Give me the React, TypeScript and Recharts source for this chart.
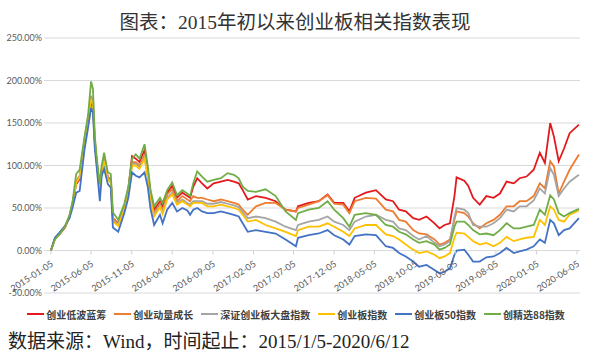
import React from 'react';
import { LineChart, Line, XAxis, YAxis, CartesianGrid, Legend } from 'recharts';

// --- Data (percent since 2015-01-05) ---

const dates = [
  '2015-01-05', '2015-01-20', '2015-02-06', '2015-02-27', '2015-03-16', '2015-03-27', '2015-04-10', '2015-04-23',
  '2015-05-11', '2015-05-25', '2015-06-05', '2015-06-12', '2015-06-19', '2015-06-26', '2015-07-08', '2015-07-15',
  '2015-07-24', '2015-08-07', '2015-08-18', '2015-08-26', '2015-09-15', '2015-10-08', '2015-10-23', '2015-11-06',
  '2015-11-20', '2015-12-04', '2015-12-23', '2016-01-04', '2016-01-14', '2016-01-28', '2016-02-19', '2016-02-29',
  '2016-03-17', '2016-04-05', '2016-04-23', '2016-05-13', '2016-06-01', '2016-06-11', '2016-06-23', '2016-07-08',
  '2016-07-26', '2016-08-15', '2016-09-08', '2016-10-05', '2016-10-30', '2016-11-23', '2016-12-11', '2016-12-26',
  '2017-01-14', '2017-02-14', '2017-03-22', '2017-04-29', '2017-06-05', '2017-07-14', '2017-07-22', '2017-08-31',
  '2017-10-08', '2017-11-10', '2017-12-05', '2018-01-08', '2018-01-31', '2018-02-20', '2018-04-03', '2018-05-11',
  '2018-06-17', '2018-07-14', '2018-08-06', '2018-08-31', '2018-09-28', '2018-10-20', '2018-11-17', '2018-12-17',
  '2019-01-05', '2019-01-24', '2019-02-13', '2019-03-02', '2019-03-10', '2019-04-08', '2019-04-23', '2019-05-11',
  '2019-06-05', '2019-06-30', '2019-07-27', '2019-08-20', '2019-09-14', '2019-10-11', '2019-11-02', '2019-11-28',
  '2019-12-25', '2020-01-17', '2020-02-05', '2020-02-25', '2020-03-10', '2020-03-28', '2020-04-17', '2020-05-08',
  '2020-06-12',
];

// 创业低波蓝筹
const lowVolBlueChip = [
  0, 14, 19, 27, 40, 54, 78, 84, 128, 150, 175, 168, 128, 105, 70, 95,
  108, 86, 84, 38, 32, 52, 72, 111, 108, 104, 118, 95, 68, 48, 58, 52,
  68, 76, 62, 68, 64, 62, 75, 85, 79, 73, 79, 81, 83, 81, 79, 71,
  60, 64, 62, 58, 48, 46, 52, 56, 58, 66, 56, 56, 46, 62, 68, 71,
  60, 58, 48, 46, 38, 36, 40, 32, 26, 30, 32, 64, 86, 82, 76, 62,
  54, 64, 62, 67, 81, 79, 85, 87, 95, 115, 103, 150, 134, 105, 120, 138,
  148,
];
// 创业动量成长
const momentumGrowth = [
  0, 14, 20, 28, 41, 55, 82, 88, 130, 155, 182, 175, 130, 106, 72, 96,
  108, 86, 84, 38, 31, 50, 70, 104, 104, 100, 112, 90, 64, 44, 55, 47,
  66, 72, 58, 64, 60, 58, 64, 62, 62, 60, 58, 60, 58, 56, 54, 48,
  42, 52, 56, 56, 48, 46, 50, 54, 58, 65, 55, 54, 44, 58, 62, 61,
  48, 46, 36, 34, 24, 20, 19, 13, 7, 9, 13, 36, 46, 44, 40, 32,
  26, 32, 36, 42, 52, 52, 58, 58, 64, 79, 73, 105, 99, 67, 81, 95,
  113,
];
// 深证创业板大盘指数
const bigCapIndex = [
  0, 14, 20, 28, 40, 54, 80, 86, 129, 153, 180, 174, 128, 104, 70, 94,
  106, 84, 82, 36, 30, 49, 68, 102, 102, 98, 110, 88, 62, 42, 53, 45,
  62, 68, 56, 60, 56, 54, 58, 58, 58, 55, 55, 57, 55, 53, 51, 45,
  38, 40, 38, 34, 28, 24, 30, 34, 36, 40, 34, 30, 24, 34, 40, 42,
  36, 34, 26, 24, 17, 13, 17, 9, 5, 7, 11, 40, 50, 48, 44, 30,
  28, 28, 32, 38, 48, 46, 52, 52, 59, 73, 67, 97, 89, 64, 73, 81,
  89,
];
// 创业板指数
const chinextIndex = [
  0, 14, 20, 28, 40, 54, 80, 86, 128, 152, 178, 172, 127, 103, 68, 93,
  105, 83, 80, 34, 29, 48, 67, 100, 100, 96, 108, 86, 60, 40, 51, 43,
  60, 66, 54, 58, 54, 52, 56, 56, 56, 52, 52, 54, 52, 50, 48, 42,
  34, 36, 30, 26, 22, 17, 24, 28, 28, 32, 28, 22, 17, 26, 30, 30,
  19, 17, 13, 7, 1, -3, -1, -5, -9, -7, -3, 15, 21, 20, 16, 11,
  7, 9, 5, 9, 16, 11, 13, 15, 16, 36, 30, 52, 48, 36, 34, 42,
  47,
];
// 创业板50指数
const chinext50 = [
  0, 15, 21, 29, 38, 50, 68, 70, 118, 145, 168, 162, 120, 98, 58, 88,
  96, 78, 74, 27, 22, 44, 62, 92, 88, 86, 92, 75, 50, 30, 42, 32,
  48, 56, 46, 50, 47, 42, 48, 50, 46, 44, 44, 46, 44, 42, 40, 32,
  22, 24, 22, 20, 13, 5, 15, 18, 20, 24, 18, 13, 7, 17, 19, 18,
  5, 3, -3, -7, -13, -19, -17, -23, -27, -25, -21, -5, 0, 1, -5, -13,
  -13, -8, -7, -3, 3, -3, -1, 1, 5, 13, 9, 36, 32, 18, 24, 26,
  38,
];
// 创精选88指数
const select88 = [
  0, 13, 19, 28, 42, 57, 90, 95, 133, 160, 199, 190, 135, 110, 78, 100,
  115, 92, 90, 45, 36, 55, 75, 108, 113, 108, 125, 100, 72, 52, 62, 56,
  71, 80, 65, 71, 67, 64, 79, 93, 87, 81, 83, 85, 91, 89, 85, 75,
  70, 69, 72, 64, 46, 36, 44, 48, 50, 58, 48, 38, 28, 42, 44, 42,
  30, 28, 22, 19, 13, 9, 11, 7, 1, 3, 7, 28, 34, 34, 30, 24,
  19, 20, 18, 24, 32, 26, 26, 28, 30, 48, 42, 65, 60, 44, 40, 44,
  49,
];

const tickDates = [
  '2015-01-05', '2015-06-05', '2015-11-05', '2016-04-05', '2016-09-05', '2017-02-05', '2017-07-05',
  '2017-12-05', '2018-05-05', '2018-10-05', '2019-03-05', '2019-08-05', '2020-01-05', '2020-06-05',
];
const yTicks = [-50, 0, 50, 100, 150, 200, 250];

const series = [
  { key: 'lvbc', name: '创业低波蓝筹', color: '#E3191C', values: lowVolBlueChip },
  { key: 'momo', name: '创业动量成长', color: '#ED7D31', values: momentumGrowth },
  { key: 'big', name: '深证创业板大盘指数', color: '#A5A5A5', values: bigCapIndex },
  { key: 'cyb', name: '创业板指数', color: '#FFC000', values: chinextIndex },
  { key: 'c50', name: '创业板50指数', color: '#4472C4', values: chinext50 },
  { key: 's88', name: '创精选88指数', color: '#70AD47', values: select88 },
];

const data = dates.map((d, i) => {
  const row: any = { t: Date.parse(d) };
  series.forEach((s) => { row[s.key] = s.values[i]; });
  return row;
});

// --- Layout ---

const W = 600;
const H = 362;
const MARGIN = { top: 38, right: 20, bottom: 40, left: 4 };
const LEGEND_H = 16;
const XAXIS_H = 13;
const PLOT_BOTTOM = H - MARGIN.bottom - LEGEND_H - XAXIS_H;
const ZERO_Y = PLOT_BOTTOM - (PLOT_BOTTOM - MARGIN.top) * (50 / 300);

const CJK = '"Liberation Serif", "Noto Sans CJK SC", serif';
const AXIS_FONT = 'Lato, "Liberation Sans", sans-serif';

const fmtDate = (v: number) => new Date(v).toISOString().slice(0, 10);
const seriesIndex = (dataKey: string) => series.findIndex((s) => s.key === dataKey);

// x labels sit on the 0% line like in Excel, not at the bottom of the plot
const DateTick = ({ x, payload }: any) => {
  const ax = x + 3;
  const ay = ZERO_Y + 15;
  return (
    <g>
      <line x1={x} x2={x} y1={ZERO_Y} y2={ZERO_Y + 4} stroke="#d0d0d0" />
      <text
        x={ax}
        y={ay}
        textAnchor="end"
        transform={`rotate(-33 ${ax} ${ay})`}
        fontSize={9}
        fontFamily={AXIS_FONT}
        fill="#595959"
      >
        {fmtDate(payload.value)}
      </text>
    </g>
  );
};

const LegendContent = ({ payload }: any) => {
  const items = [...(payload || [])].sort((a: any, b: any) => seriesIndex(a.dataKey) - seriesIndex(b.dataKey));
  return (
    <div
      style={{
        display: 'flex',
        justifyContent: 'center',
        alignItems: 'center',
        height: LEGEND_H,
        fontFamily: '"Noto Sans CJK SC", sans-serif',
        fontSize: 10,
        fontWeight: 700,
        color: '#404040',
        whiteSpace: 'nowrap',
      }}
    >
      {items.map((p: any) => (
        <span key={p.value} style={{ display: 'flex', alignItems: 'center', marginRight: 8 }}>
          <svg width={17} height={4}>
            <line x1={0} x2={17} y1={2} y2={2} stroke={p.color} strokeWidth={2} />
          </svg>
          <span style={{ marginLeft: 2 }}>{p.value}</span>
        </span>
      ))}
    </div>
  );
};

export default function App() {
  return (
    <div style={{ position: 'absolute', left: 0, top: 0, width: W, height: H, background: '#fff' }}>
      <div
        style={{
          position: 'absolute', top: 12, left: 0, width: W - 10, textAlign: 'center',
          fontFamily: CJK, fontSize: 19.5, lineHeight: '22px', color: '#333',
        }}
      >
        图表：2015年初以来创业板相关指数表现
      </div>

      <LineChart width={W} height={H} data={data} margin={MARGIN}>
        <CartesianGrid vertical={false} stroke="#d9d9d9" />
        <XAxis
          dataKey="t"
          type="number"
          domain={[Date.parse('2014-12-10'), Date.parse('2020-06-16')]}
          ticks={tickDates.map((d) => Date.parse(d))}
          interval={0}
          height={XAXIS_H}
          axisLine={false}
          tickLine={false}
          tick={(props: any) => <DateTick {...props} />}
        />
        <YAxis
          domain={[-50, 250]}
          ticks={yTicks}
          width={40}
          axisLine={false}
          tickLine={false}
          tickSize={0}
          tickMargin={2}
          tickFormatter={(v: number) => `${v.toFixed(2)}%`}
          tick={{ fontSize: 9, fontFamily: AXIS_FONT, fill: '#595959' }}
        />
        <Legend
          verticalAlign="bottom"
          wrapperStyle={{ left: 0, width: W }}
          content={(props: any) => <LegendContent {...props} />}
        />
        {series.map((s) => (
          <Line
            key={s.key}
            dataKey={s.key}
            name={s.name}
            stroke={s.color}
            strokeWidth={1.8}
            dot={false}
            type="linear"
            isAnimationActive={false}
          />
        ))}
      </LineChart>

      <div
        style={{
          position: 'absolute', top: 331, left: 8, fontFamily: CJK, fontSize: 19,
          lineHeight: '22px', color: '#222', whiteSpace: 'nowrap',
        }}
      >
        数据来源：Wind，时间起止：2015/1/5-2020/6/12
      </div>
    </div>
  );
}
